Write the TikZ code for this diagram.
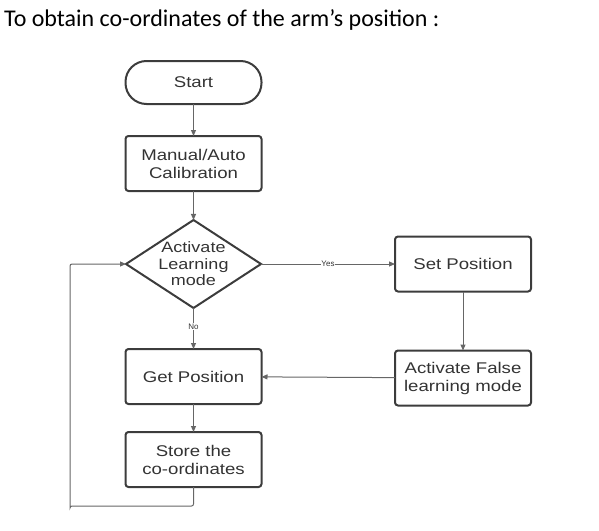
\documentclass[tikz,border=0pt]{standalone}
\usepackage{fontspec}
\setmainfont{Liberation Sans}
\newfontfamily\titlefont{Carlito}
\newfontfamily\boxfont[FakeStretch=1.2]{Liberation Sans}
\usetikzlibrary{
    positioning,
    arrows.meta,
    shapes.geometric
}
\definecolor{boxline}{HTML}{3C3C3C}
\definecolor{flowline}{HTML}{666666}
\tikzset{%
    process/.style={%
        rectangle,
        draw=boxline,
        line width=2pt,
        rounded corners=3pt,
        align=center,
        inner sep = 2pt,
        outer sep = 0pt,
        minimum width=136pt,
        minimum height=55pt,
        font=\boxfont\fontsize{15.5}{18}\selectfont,
        text=black!80
    },
    terminal/.style={%
        process,
        rounded corners=21pt,
        minimum height=43pt,
    },
    decision/.style={%
        diamond,
        draw=boxline,
        line width=2pt,
        inner sep = 0pt,
        outer sep = 0pt,
        minimum width=135pt,
        minimum height=88pt,
    },
    decision text/.style={%
        align=center,
        inner sep = 0pt,
        font=\boxfont\fontsize{15}{16.5}\selectfont,
        text=black!80
    },
    arrow/.style={%
        draw=flowline,
        line width=1pt,
        -{Triangle[width=5pt,length=6pt]},
    },
    tag/.style={%
        fill=white,
        inner sep = 0.5pt,
        font=\fontsize{8}{9}\selectfont,
        text=black!80
    },
}

\begin{document}
\begin{tikzpicture}[x=1pt, y=1pt]
    \useasboundingbox (0,0) rectangle (599,-530);
    \node[anchor=base west, inner sep=0pt, font=\titlefont\fontsize{24}{28}\selectfont] (title) at (4,-27) {To obtain co-ordinates of the arm’s position :};

    \node[terminal] (start) at (193.5,-82.5) {Start};
    \node[process, below=32pt of start] (calib) {Manual/Auto\\Calibration};
    \node[decision, below=29pt of calib,
          label={[decision text]center:Activate\\Learning\\mode}] (learn) {};
    \node[process, right=134pt of learn] (setpos) {Set Position};
    \node[process, below=41pt of learn] (getpos) {Get Position};
    \node[process, below=59pt of setpos] (falsemode) {Activate False\\learning mode};
    \node[process, below=28pt of getpos] (store) {Store the\\co-ordinates};

    \coordinate (loopdown) at ([yshift=-19pt]store.south);
    \coordinate (loopleft) at (70,-507);

    \draw[arrow] (start) -- (calib);
    \draw[arrow] (calib) -- (learn);
    \draw[arrow] (learn) -- node[tag] {Yes} (setpos);
    \draw[arrow] (learn) -- node[tag, pos=0.45] {No} (getpos);
    \draw[arrow] (setpos) -- (falsemode);
    \draw[arrow] (falsemode) -- (getpos);
    \draw[arrow] (getpos) -- (store);
    \draw[arrow, rounded corners=2pt] (store.south) -- (loopdown) -| (loopleft) |- (learn.west);
\end{tikzpicture}
\end{document}
